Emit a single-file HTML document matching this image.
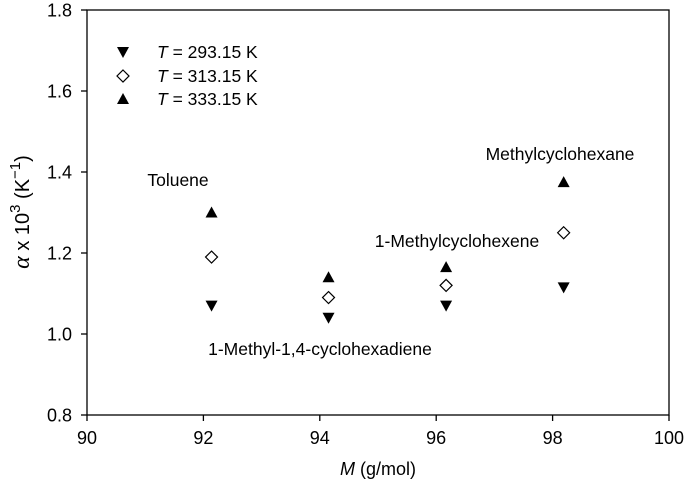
<!DOCTYPE html>
<html><head><meta charset="utf-8"><style>
body{margin:0;background:#fff}
svg{display:block;font-family:"Liberation Sans",sans-serif}
</style></head><body>
<svg id="c" width="685" height="491"></svg>
<script>
const xTicks=[90,92,94,96,98,100];
const yTicks=[0.8,1.0,1.2,1.4,1.6,1.8];
const masses=[92.14,94.15,96.17,98.19];
const compounds=["Toluene","1-Methyl-1,4-cyclohexadiene","1-Methylcyclohexene","Methylcyclohexane"];
const alpha293=[1.07,1.04,1.07,1.115];
const alpha313=[1.19,1.09,1.12,1.25];
const alpha333=[1.30,1.14,1.165,1.375];
const labelPos=[[178,186],[320,355],[457,247],[560,160]];
const NS="http://www.w3.org/2000/svg";
const svg=document.getElementById('c');
const FS=17.5;
const X=v=>87+(v-90)/10*582;
const Y=v=>415-(v-0.8)/1.0*405;
function el(t,a,p){const e=document.createElementNS(NS,t);for(const k in a)e.setAttribute(k,a[k]);(p||svg).appendChild(e);return e;}
const frame=el('rect',{x:87,y:10,width:582,height:405,fill:'none',stroke:'#000','stroke-width':1.3});


xTicks.forEach(v=>{
 const t=el('line',{x1:X(v),x2:X(v),y1:415,y2:421,stroke:'#000','stroke-width':1.3});
 
 
 const l=el('text',{x:X(v),y:444,'text-anchor':'middle','font-size':18});
 l.textContent=v;
 
 
});
yTicks.forEach(v=>{
 const t=el('line',{x1:81,x2:87,y1:Y(v),y2:Y(v),stroke:'#000','stroke-width':1.3});
 
 
 const l=el('text',{x:72,y:Y(v)+6.5,'text-anchor':'end','font-size':18});
 l.textContent=v.toFixed(1);
 
 
});
function down(x,y){return el('path',{d:`M${x-6},${y-5}L${x+6},${y-5}L${x},${y+6}Z`,fill:'#000'});}
function up(x,y){return el('path',{d:`M${x-6},${y+5}L${x+6},${y+5}L${x},${y-6}Z`,fill:'#000'});}
function dia(x,y){return el('path',{d:`M${x},${y-6}L${x+6},${y}L${x},${y+6}L${x-6},${y}Z`,fill:'#fff',stroke:'#000','stroke-width':1.2});}
masses.forEach((m,i)=>{
 const a=down(X(m),Y(alpha293[i]));
 
 
 const b=dia(X(m),Y(alpha313[i]));
 
 
 const c=up(X(m),Y(alpha333[i]));
 
 
 const t=el('text',{x:labelPos[i][0],y:labelPos[i][1],'text-anchor':'middle','font-size':FS});
 t.textContent=compounds[i];
 
 
});
const legT=["293.15","313.15","333.15"];
const legF=[down,dia,up];
[52,76,99].forEach((y,i)=>{
 const m=legF[i](123,y);
 
 
 const t=el('text',{x:157,y:y+6,'font-size':FS});
 t.innerHTML='<tspan font-style="italic">T</tspan> = '+legT[i]+' K';
 
 
});
const xt=el('text',{x:378,y:475,'text-anchor':'middle','font-size':18});
xt.innerHTML='<tspan font-style="italic">M</tspan> (g/mol)';


const yt=el('text',{x:0,y:0,'text-anchor':'middle','font-size':20,transform:'translate(29,212) rotate(-90)'});
yt.innerHTML='<tspan font-family="Liberation Serif" font-style="italic" font-size="24">α</tspan> x 10<tspan dy="-9" font-size="15">3</tspan><tspan dy="9"> (K</tspan><tspan dy="-9" font-size="15">−1</tspan><tspan dy="9">)</tspan>';


</script>
</body></html>
